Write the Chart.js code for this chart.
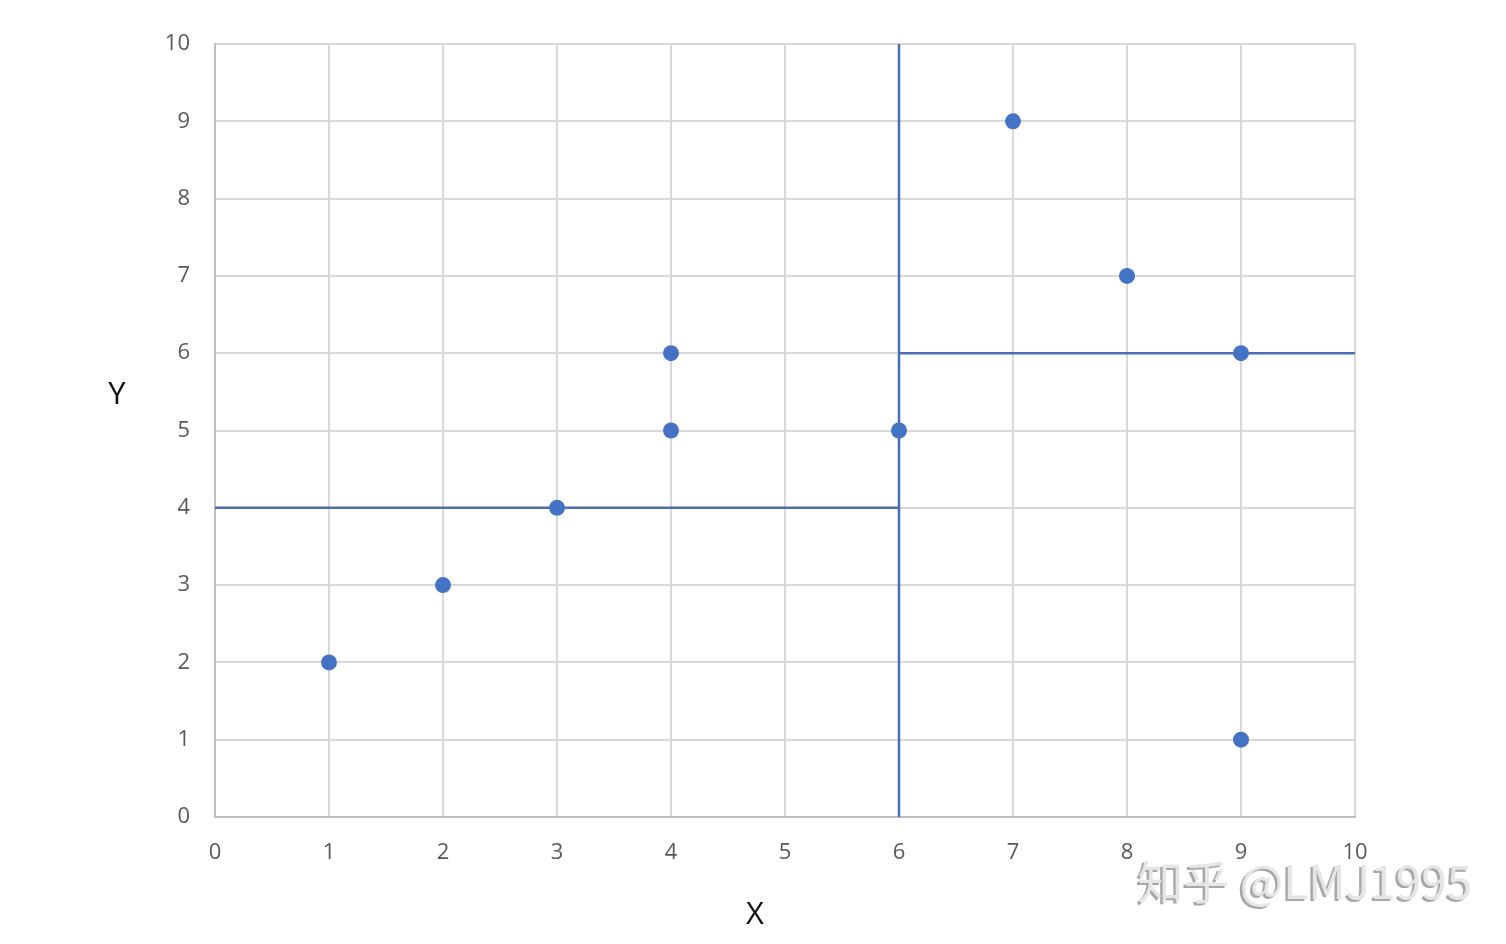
<!DOCTYPE html>
<html>
<head>
<meta charset="utf-8">
<script src="https://cdn.jsdelivr.net/npm/chart.js@4/dist/chart.umd.min.js"></script>
<style>
html,body{margin:0;padding:0;background:#fff;}
#wrap{width:1506px;height:944px;}
</style>
</head>
<body>
<div id="wrap"><canvas id="c" width="1506" height="944"></canvas></div>
<script>
// ---- data ----
const pointX = [1, 2, 3, 4, 4, 6, 7, 8, 9, 9];
const pointY = [2, 3, 4, 5, 6, 5, 9, 7, 6, 1];
const splitVX = [6, 6];
const splitVY = [0, 10];
const splitLeftX = [0, 6];
const splitLeftY = [4, 4];
const splitRightX = [6, 10];
const splitRightY = [6, 6];
const xTicks = [0,1,2,3,4,5,6,7,8,9,10];
const yTicks = [0,1,2,3,4,5,6,7,8,9,10];
const xTitle = 'X';
const yTitle = 'Y';
const watermark = '知乎 @LMJ1995';

const zip = (xs, ys) => xs.map((x, i) => ({x, y: ys[i]}));
const blue = '#4472C4';
const lineBlue = '#4A6DB3';

const overlay = {
  id: 'overlay',
  afterDraw(chart) {
    const ctx = chart.ctx;
    ctx.save();
    ctx.fillStyle = '#111';
    ctx.font = '31px "Open Sans"';
    ctx.textAlign = 'center';
    ctx.textBaseline = 'middle';
    ctx.fillText(yTitle, 117, 395);
    ctx.fillText(xTitle, 755, 915);
    // watermark
    ctx.font = '46px "Noto Sans CJK SC", "Open Sans"';
    ctx.textAlign = 'left';
    ctx.textBaseline = 'alphabetic';
    ctx.fillStyle = '#a8a8a8';
    ctx.fillText(watermark, 1135, 901);
    ctx.fillStyle = '#e6e6e6';
    ctx.fillText(watermark, 1137.5, 899);
    ctx.restore();
  }
};

const tickFont = { family: '"Open Sans"', size: 22 };

new Chart(document.getElementById('c'), {
  type: 'scatter',
  data: {
    datasets: [
      {
        data: zip(pointX, pointY),
        backgroundColor: blue,
        borderColor: blue,
        pointRadius: 8,
        pointHoverRadius: 8,
        borderWidth: 0,
        order: 0
      },
      {
        data: zip(splitVX, splitVY),
        showLine: true,
        borderColor: lineBlue,
        borderWidth: 2.5,
        pointRadius: 0,
        clip: false,
        order: 1
      },
      {
        data: zip(splitLeftX, splitLeftY),
        showLine: true,
        borderColor: lineBlue,
        borderWidth: 2.5,
        pointRadius: 0,
        clip: false,
        order: 1
      },
      {
        data: zip(splitRightX, splitRightY),
        showLine: true,
        borderColor: lineBlue,
        borderWidth: 2.5,
        pointRadius: 0,
        clip: false,
        order: 1
      }
    ]
  },
  options: {
    responsive: false,
    animation: false,
    devicePixelRatio: 1,
    layout: { padding: { left: 0, right: 151, top: 44, bottom: 0 } },
    plugins: { legend: { display: false }, tooltip: { enabled: false } },
    scales: {
      x: {
        type: 'linear',
        min: 0, max: 10,
        afterBuildTicks: s => { s.ticks = xTicks.map(v => ({value: v})); },
        afterFit: s => { s.height = 127; },
        grid: { color: '#d9d9d9', lineWidth: 2, drawTicks: false },
        border: { color: '#bfbfbf', width: 2 },
        ticks: { color: '#595959', font: tickFont, padding: 23, maxRotation: 0 }
      },
      y: {
        type: 'linear',
        min: 0, max: 10,
        afterBuildTicks: s => { s.ticks = yTicks.map(v => ({value: v})); },
        afterFit: s => { s.width = 215; },
        grid: { color: '#d9d9d9', lineWidth: 2, drawTicks: false },
        border: { color: '#bfbfbf', width: 2 },
        ticks: { color: '#595959', font: tickFont, padding: 25 }
      }
    }
  },
  plugins: [overlay]
});
</script>
</body>
</html>
